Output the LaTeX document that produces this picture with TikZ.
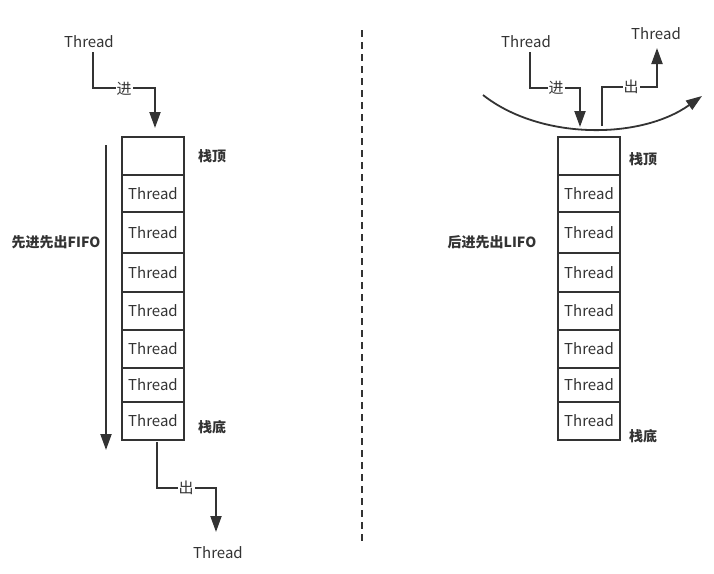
\documentclass[tikz,border=0pt]{standalone}
\usepackage{fontspec}
\setmainfont{Noto Sans CJK SC}
\usetikzlibrary{arrows.meta}
\begin{document}
\begin{tikzpicture}[x=1pt,y=-1pt,
  every node/.style={font=\fontsize{15}{18}\selectfont, text=black!80},
  ln/.style={draw=black!80, line width=2pt},
  arr/.style={ln, -{Triangle[width=11pt,length=16pt]}},
  cell/.style={draw=black!80, line width=1.5pt},
  lbl/.style={fill=white, inner sep=1pt},
  bold/.style={font=\fontsize{14}{17}\selectfont\bfseries}]
\useasboundingbox (0,0) rectangle (714,573);
% left stack
\foreach \a/\b [count=\i] in {137/175,175/212,212/253,253/292,292/330,330/368,368/402,402/440}{
  \draw[cell] (122,\a) rectangle (184,\b);
}
\foreach \a/\b in {175/212,212/253,253/292,292/330,330/368,368/402,402/440}{
  \node at (153,{(\a+\b)/2}) {Thread};
}
\foreach \a/\b in {137/175,175/212,212/253,253/292,292/330,330/368,368/402,402/440}{
  \draw[cell] (558,\a) rectangle (620,\b);
}
\foreach \a/\b in {175/212,212/253,253/292,292/330,330/368,368/402,402/440}{
  \node at (589,{(\a+\b)/2}) {Thread};
}
\node[bold] (lt) at (212,156) {栈顶};
\node[bold] (lb) at (212,427) {栈底};
\node[bold] (rt) at (643,159) {栈顶};
\node[bold] (rb) at (643,436) {栈底};
\node[bold] (fifo) at (56,242) {先进先出FIFO};
\node[bold] (lifo) at (492,242) {后进先出LIFO};
% left in
\node (tin) at (89,42) {Thread};
\coordinate (lintop) at (155,128);
\draw[arr] (93,52) -- (93,88) -- (155,88) -- (lintop);
\node[lbl] at (124,89) {进};
\draw[arr] (106,145) -- (106,450);
% left out
\node (tout) at (218,553) {Thread};
\draw[arr] (157,442) -- (157,488) -- (216,488) -- (216,532);
\node[lbl] at (186,488) {出};
% dashed
\draw[ln, dash pattern=on 7pt off 5pt] (362,30) -- (362,545);
% right
\node (rin) at (526,42) {Thread};
\node (rout) at (656,34) {Thread};
\draw[ln, line width=1.8pt, -{Triangle[width=11pt,length=16pt]}] (483,95) .. controls (540,140) and (640,140) .. (702,96);
\draw[arr] (530,52) -- (530,88) -- (580,88) -- (580,127);
\node[lbl] at (556,88) {进};
\draw[arr] (602,126) -- (602,87) -- (657,87) -- (657,48);
\node[lbl] at (631,87) {出};
\end{tikzpicture}
\end{document}
